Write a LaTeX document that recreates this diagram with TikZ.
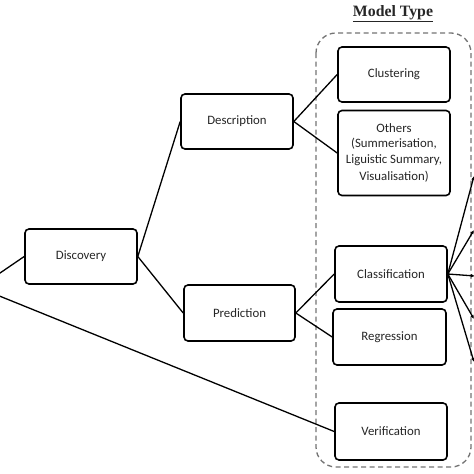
\documentclass[tikz,border=0pt]{standalone}
\usepackage{fontspec}
\setmainfont{Carlito}
\newfontfamily\titlefont{Liberation Serif}
\usetikzlibrary{arrows.meta}
\begin{document}
\begin{tikzpicture}[x=1pt,y=-1pt,
  box/.style={draw=black, line width=1.6pt, rounded corners=4pt, fill=white,
    minimum width=112pt, minimum height=55pt, inner sep=2pt, align=center,
    font=\fontsize{12.8}{15.5}\selectfont, text=black!85},
  conn/.style={draw=black, line width=1.3pt},
  cont/.style={draw=black!55, line width=1.3pt, dash pattern=on 5pt off 3.5pt, rounded corners=20pt}]
\useasboundingbox (0,0) rectangle (474,474);
\clip (0,0) rectangle (474,474);
% container
\draw[cont] (316,33) rectangle (471,467);
\node[font=\titlefont\bfseries\fontsize{15.8}{18}\selectfont, text=black!85] (title) at (393,14) {\underline{Model Type}};
% nodes
\node[box] (clus) at (394,74.5) {Clustering};
\node[box, minimum height=85pt] (oth) at (394,153) {Others\\(Summerisation,\\Liguistic Summary,\\[2pt]Visualisation)};
\node[box] (desc) at (237,121.5) {Description};
\node[box] (disc) at (81,256.5) {Discovery};
\node[box, minimum width=111pt, minimum height=56pt] (pred) at (239.5,313) {Prediction};
\node[box, minimum height=56pt] (cls) at (391,274) {Classification};
\node[box, minimum width=113pt, minimum height=56pt] (reg) at (389.5,337) {Regression};
\node[box, minimum height=57pt] (ver) at (391,431.5) {Verification};
% free ends
\coordinate (l1) at (-8,278.5);
\coordinate (l2) at (-8,293);
\coordinate (r1) at (474,176);
\coordinate (r2) at (474,230);
\coordinate (r3) at (475,276);
\coordinate (r4) at (474,319);
\coordinate (r5) at (474,362);
% connectors
\draw[conn] (disc.west) -- (l1);
\draw[conn] (ver.west) -- (l2);
\draw[conn] (disc.east) -- (desc.west);
\draw[conn] (disc.east) -- (pred.west);
\draw[conn] (desc.east) -- (clus.west);
\draw[conn] (desc.east) -- (oth.west);
\draw[conn] (pred.east) -- (cls.west);
\draw[conn] (pred.east) -- (reg.west);
\foreach \r in {r1,r2,r3,r4,r5}{
  \draw[conn, -{Latex[length=4pt,width=3.5pt]}] (cls.east) -- (\r);
}
\end{tikzpicture}
\end{document}
